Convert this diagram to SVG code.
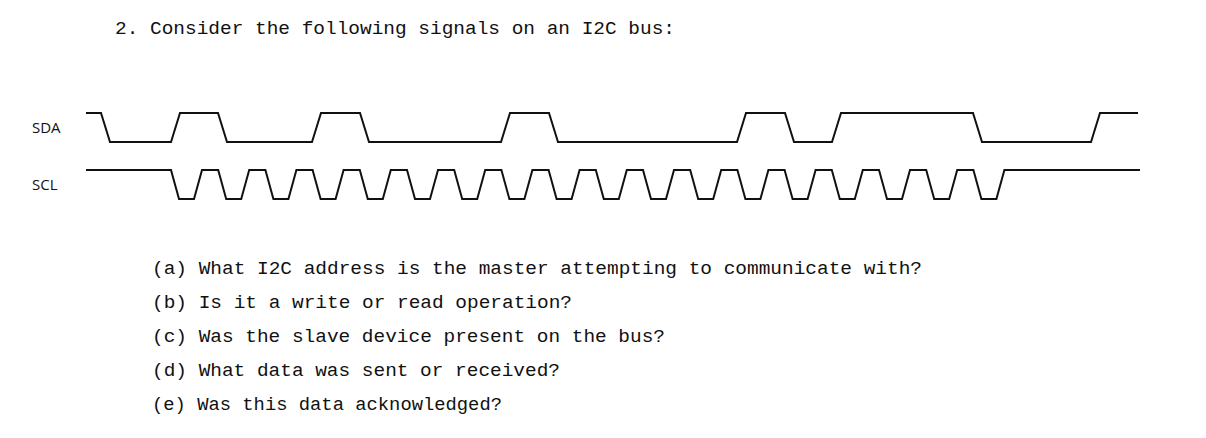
<svg xmlns="http://www.w3.org/2000/svg" width="1206" height="438" viewBox="0 0 1206 438">
<style>
.m{font-family:"Liberation Mono","DejaVu Sans Mono",monospace;font-size:18px;fill:#111}
.s{font-family:"Open Sans","Liberation Sans",sans-serif;font-size:15px;fill:#111}
.w{fill:none;stroke:#111;stroke-width:2;stroke-linejoin:miter}
</style>
<rect width="1206" height="438" fill="#fff"/>
<text class="m" x="115" y="34" textLength="560" lengthAdjust="spacingAndGlyphs">2. Consider the following signals on an I2C bus:</text>
<g id="sda"><text class="s" x="32" y="133">SDA</text>
<path class="w" d="M86,113 H101 L110,142 H171 L180,113 H218 L227,142 H312 L321,113 H360 L369,142 H501 L510,113 H549 L558,142 H737 L746,113 H785 L794,142 H832 L841,113 H973 L982,142 H1091 L1100,113 H1138"/></g>
<g id="scl"><text class="s" x="32" y="190">SCL</text>
<path class="w" d="M86,170 H171 l8,29 h15 l8,-29 h16.2 l8,29 h15 l8,-29 h16.2 l8,29 h15 l8,-29 h16.2 l8,29 h15 l8,-29 h16.2 l8,29 h15 l8,-29 h16.2 l8,29 h15 l8,-29 h16.2 l8,29 h15 l8,-29 h16.2 l8,29 h15 l8,-29 h16.2 l8,29 h15 l8,-29 h16.2 l8,29 h15 l8,-29 h16.2 l8,29 h15 l8,-29 h16.2 l8,29 h15 l8,-29 h16.2 l8,29 h15 l8,-29 h16.2 l8,29 h15 l8,-29 h16.2 l8,29 h15 l8,-29 h16.2 l8,29 h15 l8,-29 h16.2 l8,29 h15 l8,-29 h16.2 l8,29 h15 l8,-29 H1140"/></g>
<g id="questions">
<text class="m" x="152" y="274" textLength="770" lengthAdjust="spacingAndGlyphs">(a) What I2C address is the master attempting to communicate with?</text>
<text class="m" x="152" y="308" textLength="420" lengthAdjust="spacingAndGlyphs">(b) Is it a write or read operation?</text>
<text class="m" x="152" y="342" textLength="513" lengthAdjust="spacingAndGlyphs">(c) Was the slave device present on the bus?</text>
<text class="m" x="152" y="376" textLength="408" lengthAdjust="spacingAndGlyphs">(d) What data was sent or received?</text>
<text class="m" x="152" y="410" textLength="350" lengthAdjust="spacingAndGlyphs">(e) Was this data acknowledged?</text>
</g>
</svg>
